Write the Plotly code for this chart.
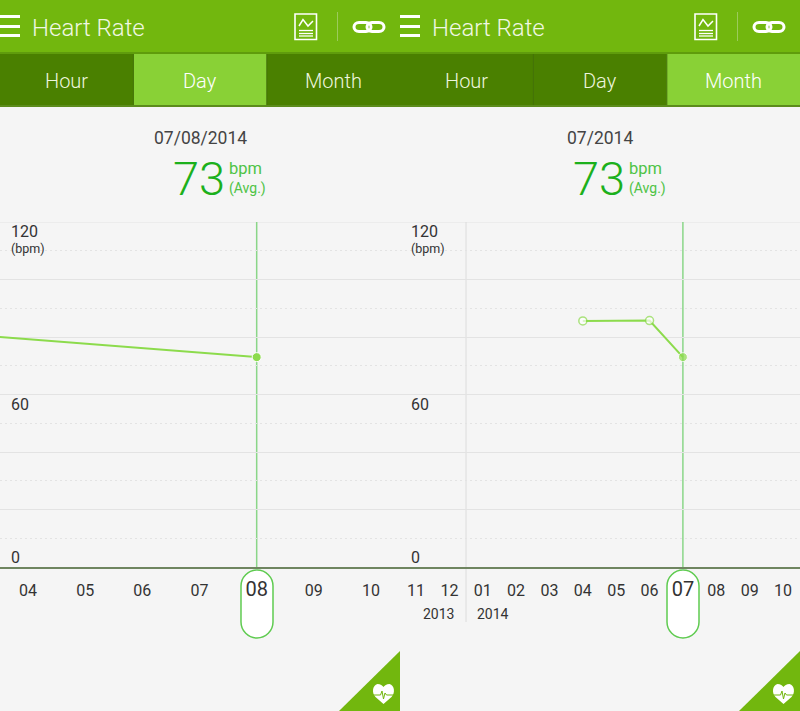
import plotly.graph_objects as go

W, H = 800, 711

# chart values
day_x = [3, 8]
day_bpm = [80.8, 73]
day_ticks = [4, 5, 6, 7, 8, 9, 10]
day_labels = ['04', '05', '06', '07', '<span style="font-size:20px">08</span>', '09', '10']

month_cats = ['11', '12', '01', '02', '03', '04', '05', '06', '07', '08', '09', '10']
month_labels = ['11', '12', '01', '02', '03', '04', '05', '06', '<span style="font-size:20px">07</span>', '08', '09', '10']
month_x = ['04', '06', '07']
month_bpm = [85.6, 85.7, 73]

tabs = ['Hour', 'Day', 'Month']
y_labels = [120, 60, 0]

BG = '#f5f5f5'
HEAD = '#72b70e'
TAB = '#4a8000'
TAB_ON = '#89d136'
GREEN = '#1cb01c'
GREEN2 = '#4ec345'
LINE = '#8cdb4c'
VLINE = '#8ad688'
INK = '#333333'
GRID = '#e3e3e3'
FONT = 'Roboto'


def px(x):
    return x / W


def py(y):
    return 1 - y / H


def path(*parts):
    # letters stay as they are, (x, y) pairs in pixels go to paper fractions
    out = []
    for p in parts:
        out.append(p if isinstance(p, str) else f'{px(p[0]):.5f},{py(p[1]):.5f}')
    return ' '.join(out)


shapes = []
notes = []


def rect(x0, y0, x1, y1, fill, line=None, width=0, opacity=1):
    shapes.append(dict(type='rect', xref='paper', yref='paper', layer='below',
                       x0=px(x0), x1=px(x1), y0=py(y0), y1=py(y1), fillcolor=fill,
                       opacity=opacity, line=dict(color=line or fill, width=width)))


def draw(d, fill=None, line=None, width=0):
    shapes.append(dict(type='path', xref='paper', yref='paper', layer='below', path=d,
                       fillcolor=fill or 'rgba(0,0,0,0)',
                       line=dict(color=line or 'rgba(0,0,0,0)', width=width)))


def txt(x, y, s, size, color, anchor='center', weight=400):
    notes.append(dict(xref='paper', yref='paper', x=px(x), y=py(y), text=s, showarrow=False,
                      xanchor=anchor, yanchor='middle', borderpad=0,
                      font=dict(family=FONT, size=size, color=color, weight=weight)))


def pill(x0, y0, x1, y1):
    r = (x1 - x0) / 2
    k = r * 0.55
    d = path('M', (x0, y0 + r), 'C', (x0, y0 + r - k), (x0 + r - k, y0), (x0 + r, y0),
             'C', (x0 + r + k, y0), (x1, y0 + r - k), (x1, y0 + r),
             'L', (x1, y1 - r), 'C', (x1, y1 - r + k), (x0 + r + k, y1), (x0 + r, y1),
             'C', (x0 + r - k, y1), (x0, y1 - r + k), (x0, y1 - r), 'Z')
    draw(d, fill='#ffffff', line='#5fcb50', width=1.5)


def link_icon(x):
    for a, b in [(x, x + 17), (x + 13, x + 30)]:
        r = 5
        k = 3
        d = path('M', (a + r, 22.5), 'L', (b - r, 22.5), 'C', (b - r + k, 22.5), (b, 24.5), (b, 27),
                 'C', (b, 29.5), (b - r + k, 31.5), (b - r, 31.5), 'L', (a + r, 31.5),
                 'C', (a + r - k, 31.5), (a, 29.5), (a, 27), 'C', (a, 24.5), (a + r - k, 22.5), (a + r, 22.5), 'Z')
        draw(d, line='#ffffff', width=3)


def report_icon(x):
    rect(x, 14, x + 21.5, 39.5, 'rgba(0,0,0,0)', line='#ffffff', width=1.6)
    draw(path('M', (x + 4, 26), 'L', (x + 8, 19.5), 'L', (x + 13, 26), 'L', (x + 18, 21)),
         line='#ffffff', width=1.5)
    for yy in [30.5, 33.5, 36]:
        draw(path('M', (x + 4, yy), 'L', (x + 18, yy)), line='#ffffff', width=1.3)


def heart(cx):
    y = 684
    d = path('M', (cx, y + 20), 'L', (cx - 8, y + 13), 'C', (cx - 12, y + 9), (cx - 11, y + 1), (cx - 6, y),
             'C', (cx - 3, y), (cx - 1, y + 2), (cx, y + 3), 'C', (cx + 1, y + 2), (cx + 3, y), (cx + 6, y),
             'C', (cx + 11, y + 1), (cx + 12, y + 9), (cx + 8, y + 13), 'Z')
    draw(d, fill='#ffffff')
    draw(path('M', (cx - 10, y + 11), 'L', (cx - 3, y + 11), 'L', (cx - 1.5, y + 7), 'L', (cx, y + 15),
              'L', (cx + 1.5, y + 9), 'L', (cx + 3, y + 11), 'L', (cx + 10, y + 11)),
         line=HEAD, width=1)


def panel(x, on, date):
    rect(x, 0, x + 400, 53, HEAD)
    rect(x, 52, x + 400, 54, '#5f9c0c')
    for yy in [15, 25, 34]:
        rect(x, yy, x + 20, yy + 3, '#ffffff')
    txt(x + 30.5, 28, 'Heart Rate', 24, '#f1f7e4', 'left', 300)
    report_icon(x + 295)
    rect(x + 337, 12, x + 338, 41, '#9ccb5c')
    link_icon(x + 354)

    for i, name in enumerate(tabs):
        x0 = x + i * 133.4
        rect(x0, 54, x0 + 133.4, 106, TAB_ON if i == on else TAB)
        txt(x0 + 66.5, 81, name, 20, '#ffffff' if i == on else '#eef6df', 'center', 300)
    for i in [1, 2]:
        rect(x + i * 133.4 - 0.5, 54, x + i * 133.4 + 0.5, 106, '#3f6f00')
    rect(x, 105, x + 400, 107, '#5c8c1c')

    txt(x + 200, 138, date, 17.5, '#444444', 'center', 400)
    txt(x + 225.5, 178, '73', 47, GREEN, 'right', 300)
    txt(x + 228, 168, 'bpm', 16.5, GREEN2, 'left', 400)
    txt(x + 228, 188, '(Avg.)', 14, GREEN2, 'left', 400)

    for v in y_labels:
        # 120 and 60 sit under their gridline, 0 sits above the axis
        notes.append(dict(xref='paper', yref='y', x=px(x + 9), y=v, yshift=10 if v == 0 else -10,
                          text=str(v), showarrow=False, xanchor='left', yanchor='middle',
                          font=dict(family=FONT, size=16, color=INK)))
    txt(x + 10, 249, '(bpm)', 12.5, INK, 'left')

    shapes.append(dict(type='path', xref='paper', yref='paper', layer='below', fillcolor=HEAD,
                       line=dict(width=0),
                       path=path('M', (x + 400, 651), 'L', (x + 339, 711), 'L', (x + 400, 711), 'Z')))
    heart(x + 383.5)


rect(0, 0, W, H, BG)
panel(0, 1, '07/08/2014')
panel(400, 2, '07/2014')
pill(241, 570, 273, 638)
pill(667, 570, 699, 638)
txt(438.5, 613.5, '2013', 14, INK)
txt(493, 613.5, '2014', 14, INK)

# the top gridline sits on the edge of the plot, plotly drops it there
shapes.append(dict(type='line', xref='paper', yref='y', x0=0, x1=1, y0=120, y1=120,
                   layer='below', line=dict(color=GRID, width=1)))

# cursor lines and the year divider
shapes.append(dict(type='line', xref='x', yref='paper', x0=8, x1=8, y0=py(222), y1=py(571),
                   layer='between', line=dict(color=VLINE, width=1.5)))
shapes.append(dict(type='line', xref='x2', yref='paper', x0=8, x1=8, y0=py(222), y1=py(571),
                   layer='between', line=dict(color=VLINE, width=1.5)))
shapes.append(dict(type='line', xref='x2', yref='paper', x0=1.5, x1=1.5, y0=py(222), y1=py(622),
                   layer='below', line=dict(color='#dcdcdc', width=1)))

fig = go.Figure()
fig.add_trace(go.Scatter(x=day_x, y=day_bpm, mode='lines', xaxis='x', yaxis='y',
                         line=dict(color=LINE, width=2), showlegend=False))
fig.add_trace(go.Scatter(x=day_x[-1:], y=day_bpm[-1:], mode='markers', xaxis='x', yaxis='y',
                         marker=dict(size=9, color=LINE, line=dict(color='#ffffff', width=1)),
                         showlegend=False))
fig.add_trace(go.Scatter(x=month_x, y=month_bpm, mode='lines+markers', xaxis='x2', yaxis='y2',
                         line=dict(color=LINE, width=2),
                         marker=dict(size=[8, 8, 9], color=['#ffffff', '#ffffff', LINE],
                                     line=dict(color=[LINE, LINE, '#ffffff'], width=[1.5, 1.5, 1])),
                         showlegend=False))

xaxis_style = dict(showgrid=False, zeroline=False, showline=True, linecolor='#6f8560', linewidth=1.5,
                   ticks='', ticklabelstandoff=8, fixedrange=True,
                   tickfont=dict(family=FONT, size=16, color=INK))
yaxis_style = dict(range=[0, 120], domain=[py(567), py(222)], dtick=20, showticklabels=False, ticks='',
                   zeroline=False, showline=False, gridcolor=GRID, gridwidth=1, fixedrange=True,
                   minor=dict(dtick=10, showgrid=True, gridcolor=GRID, griddash='2px,3px', gridwidth=1))

fig.update_layout(
    width=W, height=H,
    margin=dict(l=0, r=0, t=0, b=0),
    paper_bgcolor=BG, plot_bgcolor='rgba(0,0,0,0)',
    showlegend=False,
    xaxis=dict(domain=[0, 0.5], range=[3.51, 10.507], tickmode='array',
               tickvals=day_ticks, ticktext=day_labels, **xaxis_style),
    yaxis=dict(anchor='x', **yaxis_style),
    xaxis2=dict(domain=[0.5, 1], type='category', categoryorder='array', categoryarray=month_cats,
                range=[-0.48, 11.51], tickmode='array', tickvals=month_cats, ticktext=month_labels,
                anchor='y2', **xaxis_style),
    yaxis2=dict(anchor='x2', **yaxis_style),
    shapes=shapes,
    annotations=notes,
)

fig.write_html('out.html', config=dict(displayModeBar=False),
               post_script="document.body.style.margin='0';")
